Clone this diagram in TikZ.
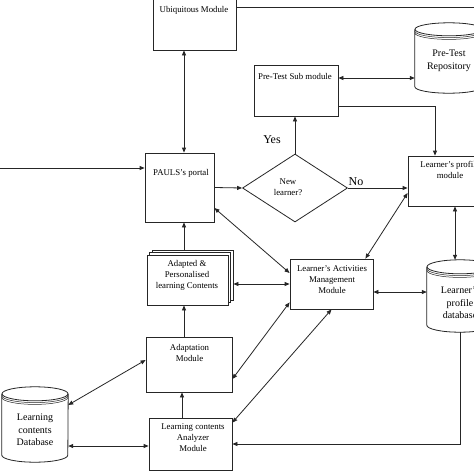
\documentclass[tikz,border=0pt]{standalone}
\usepackage{fontspec}
\setmainfont{Liberation Serif}
\usetikzlibrary{arrows.meta,shapes.geometric}
\begin{document}
\begin{tikzpicture}[x=1pt,y=-1pt,
  line/.style={draw=black!85, line width=0.8pt},
  box/.style={line, rectangle, inner sep=0pt, fill=white},
  arr/.style={line, -{Triangle[length=5pt,width=4pt]}},
  dbl/.style={line, {Triangle[length=5pt,width=4pt]}-{Triangle[length=5pt,width=4pt]}},
  txt/.style={font=\fontsize{8.8}{11}\selectfont, align=center, inner sep=0pt},
  ctxt/.style={font=\fontsize{10}{12.5}\selectfont, align=center, inner sep=0pt},
  big/.style={font=\fontsize{12}{14}\selectfont, inner sep=0pt},
  holder/.style={rectangle, inner sep=0pt, draw=none}]
\fill[white] (0,0) rectangle (474,474);
\useasboundingbox (0,0) rectangle (474,474);

% boxes
\node[box, minimum width=83pt, minimum height=85pt] (ubi) at (194.5,7.5) {};
\node[txt] at (194,10) {Ubiquitous Module};
\node[box, minimum width=69pt, minimum height=69pt] (portal) at (179.5,187.5) {};
\node[txt] at (181,173) {PAULS’s portal};
\node[box, minimum width=84pt, minimum height=51pt] (pts) at (296,90.5) {};
\node[txt] at (295,76) {Pre-Test Sub module};
\node[box, minimum width=84pt, minimum height=50pt] (lpm) at (450,181) {};
\node[txt] at (450,169.5) {Learner’s profile\\module};
\node[box, minimum width=83pt, minimum height=50pt] (lamm) at (331.5,284) {};
\node[txt] at (332,279.5) {Learner’s Activities\\Management\\Module};
\node[box, minimum width=81pt, minimum height=50pt] (adpb) at (192.5,275) {};
\node[box, minimum width=81pt, minimum height=50pt] (adpm) at (190,277.5) {};
\node[box, minimum width=81pt, minimum height=50pt] (adp) at (187.5,280) {};
\node[txt] at (187,275) {Adapted \&\\Personalised\\learning Contents};
\node[box, minimum width=86pt, minimum height=55pt] (adap) at (189,364.5) {};
\node[txt] at (189.5,353) {Adaptation\\Module};
\node[box, minimum width=83pt, minimum height=52pt] (ana) at (190.5,444) {};
\node[txt] at (193,438) {Learning contents\\Analyzer\\Module};
\node[line, diamond, minimum width=105pt, minimum height=68pt, inner sep=0pt] (dia) at (295,188) {};
\node[txt] at (288,187) {New\\learner?};

% cylinders
\node[holder, minimum width=68pt, minimum height=70pt] (repo) at (449,58) {};
\node[holder, minimum width=66pt, minimum height=72pt] (lpd) at (460,296) {};
\node[holder, minimum width=66pt, minimum height=75pt] (lcd) at (35,424.5) {};

\draw[line] ([yshift=-6.5pt]repo.north west) -- ([yshift=6.5pt]repo.south west)
  arc[start angle=180,end angle=360,x radius=34pt,y radius=6.5pt] -- ([yshift=-6.5pt]repo.north east);
\draw[line] ([yshift=-6.5pt]repo.north) ellipse[x radius=34pt,y radius=6.5pt];
\draw[line, line width=0.5pt] ([yshift=-8.3pt]repo.north west) arc[start angle=180,end angle=360,x radius=34pt,y radius=6.5pt];
\draw[line, line width=0.5pt] ([yshift=-10.1pt]repo.north west) arc[start angle=180,end angle=360,x radius=34pt,y radius=6.5pt];
\node[ctxt] at (449,61) {Pre-Test\\Repository};

\draw[line] ([yshift=-7pt]lpd.north west) -- ([yshift=7pt]lpd.south west)
  arc[start angle=180,end angle=360,x radius=33pt,y radius=7pt] -- ([yshift=-7pt]lpd.north east);
\draw[line] ([yshift=-7pt]lpd.north) ellipse[x radius=33pt,y radius=7pt];
\draw[line, line width=0.5pt] ([yshift=-8.8pt]lpd.north west) arc[start angle=180,end angle=360,x radius=33pt,y radius=7pt];
\draw[line, line width=0.5pt] ([yshift=-10.6pt]lpd.north west) arc[start angle=180,end angle=360,x radius=33pt,y radius=7pt];
\node[ctxt] at (460,303) {Learner’s\\profile\\database};

\draw[line] ([yshift=-7pt]lcd.north west) -- ([yshift=7pt]lcd.south west)
  arc[start angle=180,end angle=360,x radius=33pt,y radius=7pt] -- ([yshift=-7pt]lcd.north east);
\draw[line] ([yshift=-7pt]lcd.north) ellipse[x radius=33pt,y radius=7pt];
\draw[line, line width=0.5pt] ([yshift=-8.8pt]lcd.north west) arc[start angle=180,end angle=360,x radius=33pt,y radius=7pt];
\draw[line, line width=0.5pt] ([yshift=-10.6pt]lcd.north west) arc[start angle=180,end angle=360,x radius=33pt,y radius=7pt];
\node[ctxt] at (35,430) {Learning\\contents\\Database};

% labels
\node[big] at (272,140) {Yes};
\node[big] at (356,182) {No};

% connectors
\coordinate (topend) at (474,7.5);
\coordinate (inlet) at (0,168);
\draw[line] (ubi.east) -- (topend);
\draw[dbl] ([xshift=4.5pt]portal.north) -- ([xshift=4.5pt]portal.north |- ubi.south);
\draw[arr] (inlet) -- (inlet -| portal.west);
\draw[arr] (portal.east) -- (dia.west);
\draw[arr] (dia.north) -- (dia.north |- pts.south);
\draw[dbl] ([yshift=12.5pt]pts.east) -- ([yshift=12.5pt]pts.east -| repo.west);
\draw[arr] ([yshift=-15.5pt]pts.east) -| ([xshift=-15pt]lpm.north);
\draw[arr] (dia.east) -- (dia.east -| lpm.west);
\draw[dbl] ([xshift=-8pt]lamm.north east) -- ([yshift=-12pt]lpm.west);
\draw[dbl] ([xshift=5pt]lpm.south) -- ([xshift=5pt]lpm.south |- lpd.north);
\draw[dbl] ([yshift=-8pt]lamm.east) -- ([yshift=-8pt]lamm.east -| lpd.west);
\draw[dbl] ([yshift=-20.5pt]portal.east) -- ([yshift=11pt]lamm.west);
\draw[arr] ([xshift=4.5pt]portal.south |- adpb.north) -- ([xshift=4.5pt]portal.south);
\draw[dbl] (adpb.east |- lamm.center) -- (lamm.west);
\draw[arr] ([xshift=-5pt]adap.north) -- ([xshift=-5pt]adap.north |- adp.south);
\draw[dbl] ([yshift=-14.5pt]adap.east) -- ([yshift=7pt]lamm.south west);
\draw[arr] ([xshift=-8.5pt]ana.north) -- ([xshift=-8.5pt]ana.north |- adap.south);
\draw[dbl] ([yshift=-5pt]ana.north east) -- (lamm.south);
\draw[arr] (lpd.south) |- (ana.east);
\draw[dbl] ([yshift=19.5pt]lcd.east) -- ([yshift=4.5pt]adap.west);
\draw[dbl] ([yshift=-2pt]ana.west) -- ([yshift=-2pt]ana.west -| lcd.east);
\end{tikzpicture}
\end{document}
